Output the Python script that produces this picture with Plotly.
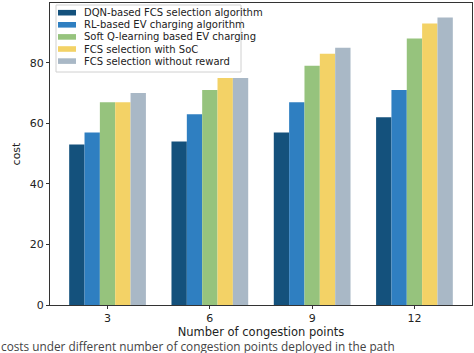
import plotly.graph_objects as go

categories = ["3", "6", "9", "12"]
series_names = [
    "DQN-based FCS selection algorithm",
    "RL-based EV charging algorithm",
    "Soft Q-learning based EV charging",
    "FCS selection with SoC",
    "FCS selection without reward",
]
series_values = [
    [53, 54, 57, 62],
    [57, 63, 67, 71],
    [67, 71, 79, 88],
    [67, 75, 83, 93],
    [70, 75, 85, 95],
]
colors = ["#14517C", "#2F7FC1", "#96C37D", "#F3D266", "#A9B8C6"]
y_ticks = [0, 20, 40, 60, 80]

W, H = 474, 353
ml, mr, mt, mb = 50, 2, 3, 48
pw, ph = W - ml - mr, H - mt - mb

fig = go.Figure()
for name, vals, col in zip(series_names, series_values, colors):
    fig.add_trace(go.Bar(x=categories, y=vals, name=name, marker=dict(color=col, line=dict(width=0)),
                         showlegend=False))

font = "DejaVu Sans"
fig.update_layout(
    width=W, height=H,
    margin=dict(l=ml, r=mr, t=mt, b=mb, pad=0),
    paper_bgcolor="white", plot_bgcolor="white",
    barmode="group", bargap=0.25, bargroupgap=0,
    font=dict(family=font, size=11, color="#222"),
    xaxis=dict(type="category", range=[-0.5625, 3.5625], showline=True, linecolor="#333", linewidth=1,
               mirror=True, ticks="outside", ticklen=3, tickcolor="#333", showgrid=False,
               title=dict(text="Number of congestion points", standoff=3, font=dict(size=11.5))),
    yaxis=dict(range=[0, 99.75], tickvals=y_ticks, showline=True, linecolor="#333", linewidth=1,
               mirror=True, ticks="outside", ticklen=3, tickcolor="#333", showgrid=False, zeroline=False,
               title=dict(text="cost", standoff=6, font=dict(size=11))),
)

# manual legend (compact, matplotlib-like)
def px2x(px):
    return (px - ml) / pw
def px2y(py):
    return 1 - (py - mt) / ph

fig.add_shape(type="rect", xref="paper", yref="paper", x0=px2x(56), x1=px2x(241), y0=px2y(72), y1=px2y(5),
              line=dict(color="#d0d0d0", width=1), fillcolor="rgba(255,255,255,0.85)", layer="above")
row0, dy = 12.7, 12.1
for i, (name, col) in enumerate(zip(series_names, colors)):
    cy = row0 + i * dy
    fig.add_shape(type="rect", xref="paper", yref="paper", x0=px2x(58), x1=px2x(76),
                  y0=px2y(cy + 2.8), y1=px2y(cy - 2.8), fillcolor=col, line=dict(width=0), layer="above")
    fig.add_annotation(xref="paper", yref="paper", x=px2x(82), y=px2y(cy), text=name, showarrow=False,
                       xanchor="left", yanchor="middle", font=dict(family=font, size=10, color="#222"))

fig.add_annotation(xref="paper", yref="paper", x=px2x(-1), y=px2y(346), text="costs under different number of congestion points deployed in the path",
                   showarrow=False, xanchor="left", yanchor="middle",
                   font=dict(family="Open Sans", size=11.8, color="#444"))

fig.write_html("out.html")
